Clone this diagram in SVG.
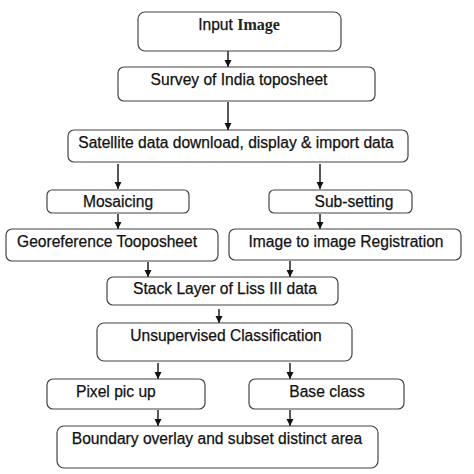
<svg xmlns="http://www.w3.org/2000/svg" width="474" height="474" viewBox="0 0 474 474">
<style>
.box{fill:#fff;stroke:#444;stroke-width:1.2}
.t{font-family:"Liberation Sans",Arial,sans-serif;font-size:15.6px;fill:#111;stroke:#111;stroke-width:0.25}
.c{stroke:#111;stroke-width:1.4;fill:none;marker-end:url(#ah)}
</style>
<defs>
<marker id="ah" markerWidth="8" markerHeight="8" refX="7" refY="4" orient="auto" markerUnits="userSpaceOnUse">
<path d="M0,0.5 L7,4 L0,7.5 Z" fill="#111"/>
</marker>
</defs>
<rect width="474" height="474" fill="#fff"/>
<g id="connectors">
<line class="c" x1="228" y1="51" x2="228" y2="67"/>
<line class="c" x1="228" y1="102" x2="228" y2="130"/>
<line class="c" x1="118" y1="164" x2="118" y2="189"/>
<line class="c" x1="320" y1="164" x2="320" y2="189"/>
<line class="c" x1="118" y1="214" x2="118" y2="229"/>
<line class="c" x1="320" y1="214" x2="320" y2="229"/>
<line class="c" x1="148" y1="262" x2="148" y2="277"/>
<line class="c" x1="290" y1="261" x2="290" y2="277"/>
<line class="c" x1="219" y1="309" x2="219" y2="323"/>
<line class="c" x1="158" y1="363" x2="158" y2="379"/>
<line class="c" x1="290" y1="363" x2="290" y2="379"/>
<line class="c" x1="158" y1="410" x2="158" y2="426"/>
<line class="c" x1="290" y1="410" x2="290" y2="426"/>
</g>
<g id="n1"><rect class="box" x="138" y="12" width="203" height="39" rx="7"/><text x="239" y="30" text-anchor="middle"><tspan class="t">Input </tspan><tspan style="font-family:'Liberation Serif','Times New Roman',serif;font-size:16px;font-weight:bold;fill:#222">Image</tspan></text></g>
<g id="n2"><rect class="box" x="118" y="67" width="257" height="34" rx="6"/><text class="t" x="239" y="85" text-anchor="middle">Survey of India toposheet</text></g>
<g id="n3"><rect class="box" x="68" y="130" width="340" height="32" rx="6"/><text class="t" x="236" y="148" text-anchor="middle">Satellite data download, display &amp; import data</text></g>
<g id="n4"><rect class="box" x="47" y="190" width="142" height="23" rx="5"/><text class="t" x="118" y="207" text-anchor="middle">Mosaicing</text></g>
<g id="n5"><rect class="box" x="269" y="190" width="143" height="23" rx="5"/><text class="t" x="354" y="207" text-anchor="middle">Sub-setting</text></g>
<g id="n6"><rect class="box" x="6" y="229" width="212" height="32" rx="6"/><text class="t" x="17" y="247">Georeference Tooposheet</text></g>
<g id="n7"><rect class="box" x="229" y="229" width="232" height="31" rx="6"/><text class="t" x="346" y="247" text-anchor="middle">Image to image Registration</text></g>
<g id="n8"><rect class="box" x="107" y="277" width="231" height="28" rx="6"/><text class="t" x="225" y="294" text-anchor="middle">Stack Layer of Liss III data</text></g>
<g id="n9"><rect class="box" x="97" y="323" width="255" height="38" rx="7"/><text class="t" x="226" y="341" text-anchor="middle">Unsupervised Classification</text></g>
<g id="n10"><rect class="box" x="47" y="379" width="158" height="30" rx="6"/><text class="t" x="76" y="397">Pixel pic up</text></g>
<g id="n11"><rect class="box" x="249" y="379" width="155" height="30" rx="6"/><text class="t" x="327" y="397" text-anchor="middle">Base class</text></g>
<g id="n12"><rect class="box" x="57" y="426" width="321" height="42" rx="7"/><text class="t" x="217" y="444" text-anchor="middle">Boundary overlay and subset distinct area</text></g>
</svg>
